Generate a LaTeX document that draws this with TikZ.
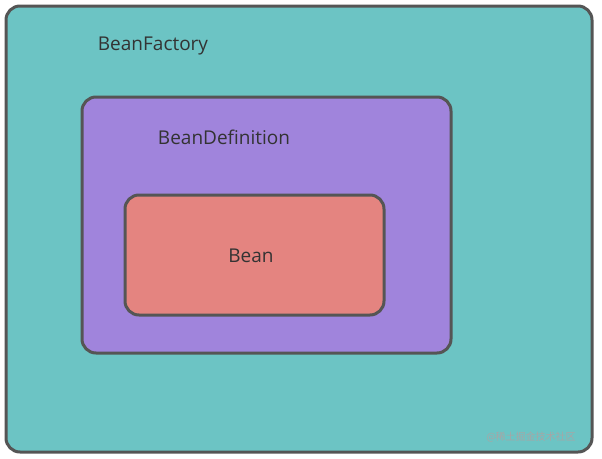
\documentclass[tikz,border=0pt]{standalone}
\usepackage{fontspec}
\setmainfont{Open Sans}
\newfontfamily\cjk{Noto Sans CJK SC}
\definecolor{teal1}{HTML}{6CC4C4}
\definecolor{purp}{HTML}{A084DC}
\definecolor{redb}{HTML}{E48480}
\definecolor{edge}{HTML}{555555}
\definecolor{txt}{HTML}{333333}
\begin{document}
\begin{tikzpicture}[x=1pt,y=-1pt,
  box/.style={draw=edge,line width=3pt,rounded corners=14pt},
  lbl/.style={text=txt,font=\fontsize{19}{22}\selectfont,inner sep=0pt}]
\useasboundingbox (0,0) rectangle (602,458);
\fill[white] (0,0) rectangle (602,458);
\draw[box,fill=teal1] (6,6) rectangle (592,452);
\draw[box,fill=purp] (82,97) rectangle (451,353);
\draw[box,fill=redb] (125,195) rectangle (384,315);
\node[lbl] (bf) at (153,46) {BeanFactory};
\node[lbl] (bd) at (224,137) {BeanDefinition};
\node[lbl] (b) at (251,256) {Bean};
\node[text=gray!70,font=\cjk\fontsize{10}{12}\selectfont,inner sep=0pt] (wm) at (531,437) {@稀土掘金技术社区};
\end{tikzpicture}
\end{document}
